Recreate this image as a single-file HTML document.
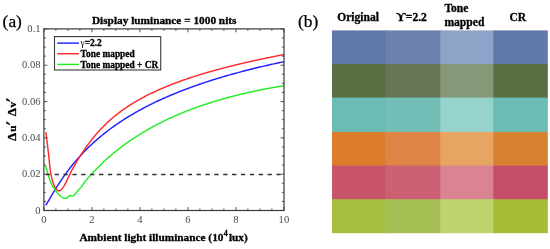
<!DOCTYPE html>
<html lang="en">
<head>
<meta charset="utf-8">
<title>Display luminance = 1000 nits</title>
<style>
html,body{margin:0;padding:0;background:#fff;}
body{width:550px;height:249px;overflow:hidden;font-family:"Liberation Serif","DejaVu Serif",serif;}
svg{display:block;filter:blur(0.35px);}
svg text{font-family:"Liberation Serif","DejaVu Serif",serif;}
.b{font-weight:bold;fill:#000;stroke:#000;stroke-width:0.3px;}
.tk{font-size:10.6px;fill:#4a4a4a;}
.pl{font-size:17.4px;fill:#000;stroke:#000;stroke-width:0.25px;}
</style>
</head>
<body>
<svg width="550" height="249" viewBox="0 0 550 249">
<rect x="0" y="0" width="550" height="249" fill="#ffffff"/>
<!-- panel (a) -->
<text class="pl" x="2.6" y="26.8">(a)</text>
<text class="b" x="164.2" y="23.9" font-size="11.3" text-anchor="middle">Display luminance = 1000 nits</text>
<g fill="none" stroke-width="1.45" stroke-linejoin="round" stroke-linecap="butt">
<path d="M45.80,205.38 L46.80,203.70 L47.80,201.99 L48.80,200.27 L49.80,198.56 L50.80,196.85 L51.80,195.15 L52.80,193.47 L53.80,191.80 L54.80,190.16 L55.80,188.54 L56.80,186.94 L57.80,185.36 L58.80,183.81 L59.80,182.28 L60.80,180.78 L61.80,179.30 L62.80,177.84 L63.80,176.41 L64.80,175.00 L65.80,173.62 L66.80,172.25 L67.80,170.91 L68.80,169.59 L69.80,168.29 L70.80,167.02 L71.80,165.76 L72.80,164.52 L73.80,163.31 L74.80,162.11 L75.80,160.93 L76.80,159.77 L77.80,158.62 L78.80,157.49 L79.80,156.38 L80.80,155.29 L81.80,154.21 L82.80,153.15 L83.80,152.10 L84.80,151.07 L85.80,150.06 L86.80,149.05 L87.80,148.06 L88.80,147.09 L89.80,146.13 L90.80,145.18 L91.80,144.24 L92.80,143.32 L93.80,142.40 L94.80,141.50 L95.80,140.62 L96.80,139.74 L97.80,138.87 L98.80,138.02 L99.80,137.17 L100.80,136.34 L101.80,135.52 L102.80,134.70 L103.80,133.90 L104.80,133.10 L105.80,132.32 L106.80,131.54 L107.80,130.78 L108.80,130.02 L109.80,129.27 L110.80,128.53 L111.80,127.79 L112.80,127.07 L113.80,126.35 L114.80,125.65 L115.80,124.94 L116.80,124.25 L117.80,123.57 L118.80,122.89 L119.80,122.22 L120.80,121.55 L121.80,120.89 L122.80,120.24 L123.80,119.60 L124.80,118.96 L125.80,118.33 L126.80,117.71 L127.80,117.09 L128.80,116.48 L129.80,115.87 L130.80,115.27 L131.80,114.68 L132.80,114.09 L133.80,113.51 L134.80,112.93 L135.80,112.36 L136.80,111.79 L137.80,111.23 L138.80,110.67 L139.80,110.12 L140.80,109.58 L141.80,109.04 L142.80,108.50 L143.80,107.97 L144.80,107.44 L145.80,106.92 L146.80,106.40 L147.80,105.89 L148.80,105.38 L149.80,104.88 L150.80,104.38 L151.80,103.88 L152.80,103.39 L153.80,102.91 L154.80,102.42 L155.80,101.95 L156.80,101.47 L157.80,101.00 L158.80,100.53 L159.80,100.07 L160.80,99.61 L161.80,99.16 L162.80,98.70 L163.80,98.26 L164.80,97.81 L165.80,97.37 L166.80,96.93 L167.80,96.50 L168.80,96.07 L169.80,95.64 L170.80,95.22 L171.80,94.79 L172.80,94.38 L173.80,93.96 L174.80,93.55 L175.80,93.14 L176.80,92.74 L177.80,92.34 L178.80,91.94 L179.80,91.54 L180.80,91.15 L181.80,90.76 L182.80,90.37 L183.80,89.99 L184.80,89.60 L185.80,89.22 L186.80,88.85 L187.80,88.47 L188.80,88.10 L189.80,87.73 L190.80,87.37 L191.80,87.01 L192.80,86.64 L193.80,86.29 L194.80,85.93 L195.80,85.58 L196.80,85.23 L197.80,84.88 L198.80,84.53 L199.80,84.19 L200.80,83.85 L201.80,83.51 L202.80,83.17 L203.80,82.84 L204.80,82.50 L205.80,82.17 L206.80,81.85 L207.80,81.52 L208.80,81.20 L209.80,80.87 L210.80,80.55 L211.80,80.24 L212.80,79.92 L213.80,79.61 L214.80,79.30 L215.80,78.99 L216.80,78.68 L217.80,78.37 L218.80,78.07 L219.80,77.77 L220.80,77.47 L221.80,77.17 L222.80,76.88 L223.80,76.58 L224.80,76.29 L225.80,76.00 L226.80,75.71 L227.80,75.42 L228.80,75.14 L229.80,74.85 L230.80,74.57 L231.80,74.29 L232.80,74.01 L233.80,73.74 L234.80,73.46 L235.80,73.19 L236.80,72.91 L237.80,72.64 L238.80,72.37 L239.80,72.11 L240.80,71.84 L241.80,71.58 L242.80,71.32 L243.80,71.05 L244.80,70.79 L245.80,70.54 L246.80,70.28 L247.80,70.02 L248.80,69.77 L249.80,69.52 L250.80,69.27 L251.80,69.02 L252.80,68.77 L253.80,68.52 L254.80,68.28 L255.80,68.03 L256.80,67.79 L257.80,67.55 L258.80,67.31 L259.80,67.07 L260.80,66.83 L261.80,66.60 L262.80,66.36 L263.80,66.13 L264.80,65.90 L265.80,65.67 L266.80,65.44 L267.80,65.21 L268.80,64.98 L269.80,64.76 L270.80,64.53 L271.80,64.31 L272.80,64.09 L273.80,63.86 L274.80,63.64 L275.80,63.43 L276.80,63.21 L277.80,62.99 L278.80,62.78 L279.80,62.56 L280.80,62.35 L281.80,62.14 L282.80,61.92 L283.80,61.71 L284.00,61.67" stroke="#1f1fff"/>
<path d="M45.90,132.20 L46.40,136.12 L46.90,140.15 L47.40,144.28 L47.90,148.50 L48.40,152.84 L48.90,157.30 L49.40,161.88 L49.90,166.83 L50.40,171.00 L50.90,174.00 L51.40,176.44 L51.90,178.48 L52.40,180.29 L52.90,181.93 L53.40,183.40 L53.90,184.70 L54.40,185.85 L54.90,186.94 L55.40,187.94 L55.90,188.78 L56.40,189.41 L56.90,189.85 L57.40,190.25 L57.90,190.57 L58.40,190.77 L58.90,190.79 L59.40,190.68 L59.90,190.48 L60.40,190.23 L60.90,189.94 L61.40,189.50 L61.90,188.92 L62.40,188.26 L62.90,187.59 L63.40,186.86 L63.90,186.07 L64.40,185.21 L64.90,184.30 L65.40,183.36 L65.90,182.38 L66.40,181.39 L66.90,180.37 L67.40,179.32 L67.90,178.26 L68.40,177.20 L68.90,176.14 L69.40,175.10 L69.90,174.08 L70.40,173.08 L70.90,172.10 L71.40,171.14 L71.90,170.21 L72.40,169.28 L72.90,168.37 L73.40,167.46 L73.90,166.57 L74.40,165.68 L74.90,164.80 L75.40,163.92 L75.90,163.06 L76.40,162.21 L76.90,161.36 L77.40,160.52 L77.90,159.69 L78.40,158.87 L78.90,158.05 L79.40,157.24 L79.90,156.44 L80.40,155.65 L80.90,154.87 L81.40,154.09 L81.90,153.32 L82.40,152.56 L82.90,151.81 L83.40,151.06 L83.90,150.32 L84.40,149.59 L84.90,148.86 L85.40,148.14 L85.90,147.43 L86.40,146.73 L86.90,146.03 L87.40,145.34 L87.90,144.66 L88.40,143.98 L88.90,143.31 L89.40,142.64 L89.90,141.99 L90.40,141.33 L90.90,140.69 L91.40,140.05 L91.90,139.42 L92.40,138.79 L92.90,138.17 L93.40,137.55 L93.90,136.94 L94.40,136.34 L94.90,135.74 L95.40,135.15 L95.90,134.57 L96.40,133.99 L96.90,133.41 L97.40,132.84 L97.90,132.28 L98.40,131.72 L98.90,131.17 L99.40,130.62 L99.90,130.08 L100.40,129.54 L100.90,129.01 L101.40,128.48 L101.90,127.96 L102.40,127.44 L102.90,126.93 L103.40,126.42 L103.90,125.92 L104.40,125.42 L104.90,124.92 L105.40,124.43 L105.90,123.95 L106.40,123.47 L106.90,123.00 L107.40,122.53 L107.90,122.06 L108.40,121.60 L108.90,121.14 L109.40,120.69 L109.90,120.24 L110.40,119.79 L110.90,119.35 L111.40,118.92 L111.90,118.49 L112.40,118.06 L112.90,117.63 L113.40,117.21 L113.90,116.80 L114.40,116.38 L114.90,115.97 L115.40,115.57 L115.90,115.17 L116.40,114.77 L116.90,114.37 L117.40,113.98 L117.90,113.59 L118.40,113.21 L118.90,112.82 L119.40,112.44 L119.90,112.07 L120.40,111.70 L120.90,111.33 L121.40,110.96 L121.90,110.60 L122.40,110.24 L122.90,109.88 L123.40,109.52 L123.90,109.17 L124.40,108.82 L124.90,108.48 L125.40,108.13 L125.90,107.79 L126.40,107.45 L126.90,107.12 L127.40,106.78 L127.90,106.45 L128.40,106.12 L128.90,105.80 L129.40,105.47 L129.90,105.15 L130.40,104.83 L130.90,104.52 L131.40,104.20 L131.90,103.89 L132.40,103.58 L132.90,103.27 L133.40,102.97 L133.90,102.67 L134.40,102.36 L134.90,102.07 L135.40,101.77 L135.90,101.47 L136.40,101.18 L136.90,100.89 L137.40,100.60 L137.90,100.31 L138.40,100.03 L138.90,99.75 L139.40,99.47 L139.90,99.19 L140.40,98.91 L140.90,98.63 L141.40,98.36 L141.90,98.09 L142.40,97.82 L142.90,97.55 L143.40,97.28 L143.90,97.02 L144.40,96.75 L144.90,96.49 L145.40,96.23 L145.90,95.97 L146.40,95.71 L146.90,95.46 L147.40,95.20 L147.90,94.95 L148.40,94.70 L148.90,94.45 L149.40,94.20 L149.90,93.96 L150.40,93.71 L150.90,93.47 L151.40,93.22 L151.90,92.98 L152.40,92.74 L152.90,92.51 L153.40,92.27 L153.90,92.03 L154.40,91.80 L154.90,91.57 L155.40,91.34 L155.90,91.11 L156.40,90.88 L156.90,90.65 L157.40,90.42 L157.90,90.20 L158.40,89.97 L158.90,89.75 L159.40,89.53 L159.90,89.31 L160.40,89.09 L160.90,88.87 L161.40,88.66 L161.90,88.44 L162.40,88.23 L162.90,88.01 L163.40,87.80 L163.90,87.59 L164.40,87.38 L164.90,87.17 L165.40,86.96 L165.90,86.76 L166.40,86.55 L166.90,86.34 L167.40,86.14 L167.90,85.94 L168.40,85.74 L168.90,85.54 L169.40,85.34 L169.90,85.14 L170.40,84.94 L170.90,84.74 L171.40,84.55 L171.90,84.35 L172.40,84.16 L172.90,83.96 L173.40,83.77 L173.90,83.58 L174.40,83.39 L174.90,83.20 L175.40,83.01 L175.90,82.82 L176.40,82.64 L176.90,82.45 L177.40,82.27 L177.90,82.08 L178.40,81.90 L178.90,81.71 L179.40,81.53 L179.90,81.35 L180.40,81.17 L180.90,80.99 L181.40,80.81 L181.90,80.64 L182.40,80.46 L182.90,80.28 L183.40,80.11 L183.90,79.93 L184.40,79.76 L184.90,79.58 L185.40,79.41 L185.90,79.24 L186.40,79.07 L186.90,78.90 L187.40,78.73 L187.90,78.56 L188.40,78.39 L188.90,78.22 L189.40,78.06 L189.90,77.89 L190.40,77.72 L190.90,77.56 L191.40,77.39 L191.90,77.23 L192.40,77.07 L192.90,76.90 L193.40,76.74 L193.90,76.58 L194.40,76.42 L194.90,76.26 L195.40,76.10 L195.90,75.94 L196.40,75.79 L196.90,75.63 L197.40,75.47 L197.90,75.32 L198.40,75.16 L198.90,75.01 L199.40,74.85 L199.90,74.70 L200.40,74.54 L200.90,74.39 L201.40,74.24 L201.90,74.09 L202.40,73.94 L202.90,73.79 L203.40,73.64 L203.90,73.49 L204.40,73.34 L204.90,73.19 L205.40,73.04 L205.90,72.90 L206.40,72.75 L206.90,72.60 L207.40,72.46 L207.90,72.31 L208.40,72.17 L208.90,72.02 L209.40,71.88 L209.90,71.74 L210.40,71.59 L210.90,71.45 L211.40,71.31 L211.90,71.17 L212.40,71.03 L212.90,70.89 L213.40,70.75 L213.90,70.61 L214.40,70.47 L214.90,70.33 L215.40,70.20 L215.90,70.06 L216.40,69.92 L216.90,69.78 L217.40,69.65 L217.90,69.51 L218.40,69.38 L218.90,69.24 L219.40,69.11 L219.90,68.98 L220.40,68.84 L220.90,68.71 L221.40,68.58 L221.90,68.44 L222.40,68.31 L222.90,68.18 L223.40,68.05 L223.90,67.92 L224.40,67.79 L224.90,67.66 L225.40,67.53 L225.90,67.40 L226.40,67.27 L226.90,67.15 L227.40,67.02 L227.90,66.89 L228.40,66.76 L228.90,66.64 L229.40,66.51 L229.90,66.39 L230.40,66.26 L230.90,66.14 L231.40,66.01 L231.90,65.89 L232.40,65.76 L232.90,65.64 L233.40,65.52 L233.90,65.39 L234.40,65.27 L234.90,65.15 L235.40,65.03 L235.90,64.90 L236.40,64.78 L236.90,64.66 L237.40,64.54 L237.90,64.42 L238.40,64.30 L238.90,64.18 L239.40,64.06 L239.90,63.95 L240.40,63.83 L240.90,63.71 L241.40,63.59 L241.90,63.47 L242.40,63.36 L242.90,63.24 L243.40,63.12 L243.90,63.01 L244.40,62.89 L244.90,62.78 L245.40,62.66 L245.90,62.55 L246.40,62.43 L246.90,62.32 L247.40,62.20 L247.90,62.09 L248.40,61.98 L248.90,61.86 L249.40,61.75 L249.90,61.64 L250.40,61.52 L250.90,61.41 L251.40,61.30 L251.90,61.19 L252.40,61.08 L252.90,60.97 L253.40,60.86 L253.90,60.75 L254.40,60.64 L254.90,60.53 L255.40,60.42 L255.90,60.31 L256.40,60.20 L256.90,60.09 L257.40,59.98 L257.90,59.87 L258.40,59.77 L258.90,59.66 L259.40,59.55 L259.90,59.44 L260.40,59.34 L260.90,59.23 L261.40,59.12 L261.90,59.02 L262.40,58.91 L262.90,58.81 L263.40,58.70 L263.90,58.60 L264.40,58.49 L264.90,58.39 L265.40,58.28 L265.90,58.18 L266.40,58.08 L266.90,57.97 L267.40,57.87 L267.90,57.77 L268.40,57.66 L268.90,57.56 L269.40,57.46 L269.90,57.36 L270.40,57.25 L270.90,57.15 L271.40,57.05 L271.90,56.95 L272.40,56.85 L272.90,56.75 L273.40,56.65 L273.90,56.55 L274.40,56.45 L274.90,56.35 L275.40,56.25 L275.90,56.15 L276.40,56.05 L276.90,55.95 L277.40,55.85 L277.90,55.75 L278.40,55.65 L278.90,55.56 L279.40,55.46 L279.90,55.36 L280.40,55.26 L280.90,55.16 L281.40,55.07 L281.90,54.97 L282.40,54.87 L282.90,54.78 L283.40,54.68 L283.90,54.58 L284.00,54.57" stroke="#ff2a2a"/>
<path d="M45.40,165.40 L45.90,166.89 L46.40,168.42 L46.90,170.00 L47.40,171.70 L47.90,173.51 L48.40,175.34 L48.90,177.12 L49.40,178.74 L49.90,180.14 L50.40,181.42 L50.90,182.63 L51.40,183.76 L51.90,184.82 L52.40,185.80 L52.90,186.70 L53.40,187.52 L53.90,188.28 L54.40,188.99 L54.90,189.66 L55.40,190.31 L55.90,190.95 L56.40,191.58 L56.90,192.22 L57.40,192.85 L57.90,193.47 L58.40,194.07 L58.90,194.63 L59.40,195.15 L59.90,195.61 L60.40,196.05 L60.90,196.48 L61.40,196.89 L61.90,197.26 L62.40,197.57 L62.90,197.81 L63.40,197.95 L63.90,198.06 L64.40,198.16 L64.90,198.24 L65.40,198.29 L65.90,198.30 L66.40,198.17 L66.90,197.91 L67.40,197.55 L67.90,197.17 L68.40,196.80 L68.90,196.34 L69.40,195.82 L69.90,195.51 L70.40,195.55 L70.90,195.72 L71.40,195.92 L71.90,196.07 L72.40,196.08 L72.90,195.91 L73.40,195.60 L73.90,195.19 L74.40,194.75 L74.90,194.31 L75.40,193.82 L75.90,193.25 L76.40,192.63 L76.90,191.98 L77.40,191.33 L77.90,190.72 L78.40,190.15 L78.90,189.60 L79.40,189.06 L79.90,188.52 L80.40,187.97 L80.90,187.39 L81.40,186.78 L81.90,186.12 L82.40,185.41 L82.90,184.65 L83.40,183.89 L83.90,183.15 L84.40,182.48 L84.90,181.84 L85.40,181.21 L85.90,180.60 L86.40,179.99 L86.90,179.40 L87.40,178.81 L87.90,178.23 L88.40,177.65 L88.90,177.08 L89.40,176.51 L89.90,175.94 L90.40,175.38 L90.90,174.82 L91.40,174.26 L91.90,173.71 L92.40,173.16 L92.90,172.62 L93.40,172.08 L93.90,171.54 L94.40,171.01 L94.90,170.49 L95.40,169.96 L95.90,169.44 L96.40,168.93 L96.90,168.41 L97.40,167.90 L97.90,167.40 L98.40,166.90 L98.90,166.40 L99.40,165.90 L99.90,165.41 L100.40,164.92 L100.90,164.44 L101.40,163.96 L101.90,163.48 L102.40,163.01 L102.90,162.53 L103.40,162.06 L103.90,161.60 L104.40,161.14 L104.90,160.68 L105.40,160.22 L105.90,159.76 L106.40,159.31 L106.90,158.87 L107.40,158.42 L107.90,157.98 L108.40,157.54 L108.90,157.10 L109.40,156.67 L109.90,156.23 L110.40,155.81 L110.90,155.38 L111.40,154.95 L111.90,154.53 L112.40,154.11 L112.90,153.70 L113.40,153.28 L113.90,152.87 L114.40,152.46 L114.90,152.06 L115.40,151.65 L115.90,151.25 L116.40,150.85 L116.90,150.45 L117.40,150.06 L117.90,149.66 L118.40,149.27 L118.90,148.88 L119.40,148.50 L119.90,148.11 L120.40,147.73 L120.90,147.35 L121.40,146.97 L121.90,146.60 L122.40,146.22 L122.90,145.85 L123.40,145.48 L123.90,145.11 L124.40,144.75 L124.90,144.38 L125.40,144.02 L125.90,143.66 L126.40,143.30 L126.90,142.95 L127.40,142.59 L127.90,142.24 L128.40,141.89 L128.90,141.54 L129.40,141.19 L129.90,140.85 L130.40,140.50 L130.90,140.16 L131.40,139.82 L131.90,139.48 L132.40,139.15 L132.90,138.81 L133.40,138.48 L133.90,138.15 L134.40,137.82 L134.90,137.49 L135.40,137.17 L135.90,136.84 L136.40,136.52 L136.90,136.20 L137.40,135.88 L137.90,135.56 L138.40,135.24 L138.90,134.93 L139.40,134.62 L139.90,134.31 L140.40,134.00 L140.90,133.69 L141.40,133.38 L141.90,133.08 L142.40,132.77 L142.90,132.47 L143.40,132.17 L143.90,131.87 L144.40,131.58 L144.90,131.28 L145.40,130.99 L145.90,130.69 L146.40,130.40 L146.90,130.11 L147.40,129.82 L147.90,129.54 L148.40,129.25 L148.90,128.97 L149.40,128.68 L149.90,128.40 L150.40,128.12 L150.90,127.84 L151.40,127.57 L151.90,127.29 L152.40,127.02 L152.90,126.74 L153.40,126.47 L153.90,126.20 L154.40,125.93 L154.90,125.67 L155.40,125.40 L155.90,125.14 L156.40,124.87 L156.90,124.61 L157.40,124.35 L157.90,124.09 L158.40,123.83 L158.90,123.57 L159.40,123.32 L159.90,123.06 L160.40,122.81 L160.90,122.56 L161.40,122.31 L161.90,122.06 L162.40,121.81 L162.90,121.56 L163.40,121.31 L163.90,121.07 L164.40,120.83 L164.90,120.58 L165.40,120.34 L165.90,120.10 L166.40,119.86 L166.90,119.63 L167.40,119.39 L167.90,119.15 L168.40,118.92 L168.90,118.69 L169.40,118.45 L169.90,118.22 L170.40,117.99 L170.90,117.76 L171.40,117.54 L171.90,117.31 L172.40,117.08 L172.90,116.86 L173.40,116.64 L173.90,116.41 L174.40,116.19 L174.90,115.97 L175.40,115.75 L175.90,115.53 L176.40,115.32 L176.90,115.10 L177.40,114.89 L177.90,114.67 L178.40,114.46 L178.90,114.25 L179.40,114.04 L179.90,113.83 L180.40,113.62 L180.90,113.41 L181.40,113.20 L181.90,112.99 L182.40,112.79 L182.90,112.59 L183.40,112.38 L183.90,112.18 L184.40,111.98 L184.90,111.78 L185.40,111.58 L185.90,111.38 L186.40,111.18 L186.90,110.99 L187.40,110.79 L187.90,110.59 L188.40,110.40 L188.90,110.21 L189.40,110.02 L189.90,109.82 L190.40,109.63 L190.90,109.44 L191.40,109.26 L191.90,109.07 L192.40,108.88 L192.90,108.70 L193.40,108.51 L193.90,108.33 L194.40,108.14 L194.90,107.96 L195.40,107.78 L195.90,107.60 L196.40,107.42 L196.90,107.24 L197.40,107.06 L197.90,106.88 L198.40,106.70 L198.90,106.53 L199.40,106.35 L199.90,106.18 L200.40,106.01 L200.90,105.83 L201.40,105.66 L201.90,105.49 L202.40,105.32 L202.90,105.15 L203.40,104.98 L203.90,104.81 L204.40,104.65 L204.90,104.48 L205.40,104.31 L205.90,104.15 L206.40,103.98 L206.90,103.82 L207.40,103.66 L207.90,103.49 L208.40,103.33 L208.90,103.17 L209.40,103.01 L209.90,102.85 L210.40,102.70 L210.90,102.54 L211.40,102.38 L211.90,102.22 L212.40,102.07 L212.90,101.91 L213.40,101.76 L213.90,101.61 L214.40,101.45 L214.90,101.30 L215.40,101.15 L215.90,101.00 L216.40,100.85 L216.90,100.70 L217.40,100.55 L217.90,100.40 L218.40,100.26 L218.90,100.11 L219.40,99.96 L219.90,99.82 L220.40,99.67 L220.90,99.53 L221.40,99.39 L221.90,99.24 L222.40,99.10 L222.90,98.96 L223.40,98.82 L223.90,98.68 L224.40,98.54 L224.90,98.40 L225.40,98.26 L225.90,98.12 L226.40,97.99 L226.90,97.85 L227.40,97.71 L227.90,97.58 L228.40,97.44 L228.90,97.31 L229.40,97.18 L229.90,97.04 L230.40,96.91 L230.90,96.78 L231.40,96.65 L231.90,96.52 L232.40,96.39 L232.90,96.26 L233.40,96.13 L233.90,96.00 L234.40,95.87 L234.90,95.75 L235.40,95.62 L235.90,95.49 L236.40,95.37 L236.90,95.24 L237.40,95.12 L237.90,95.00 L238.40,94.87 L238.90,94.75 L239.40,94.63 L239.90,94.51 L240.40,94.39 L240.90,94.27 L241.40,94.15 L241.90,94.03 L242.40,93.91 L242.90,93.79 L243.40,93.67 L243.90,93.56 L244.40,93.44 L244.90,93.32 L245.40,93.21 L245.90,93.09 L246.40,92.98 L246.90,92.86 L247.40,92.75 L247.90,92.64 L248.40,92.52 L248.90,92.41 L249.40,92.30 L249.90,92.19 L250.40,92.08 L250.90,91.97 L251.40,91.86 L251.90,91.75 L252.40,91.64 L252.90,91.53 L253.40,91.43 L253.90,91.32 L254.40,91.21 L254.90,91.11 L255.40,91.00 L255.90,90.90 L256.40,90.79 L256.90,90.69 L257.40,90.58 L257.90,90.48 L258.40,90.38 L258.90,90.27 L259.40,90.17 L259.90,90.07 L260.40,89.97 L260.90,89.87 L261.40,89.77 L261.90,89.67 L262.40,89.57 L262.90,89.47 L263.40,89.37 L263.90,89.28 L264.40,89.18 L264.90,89.08 L265.40,88.98 L265.90,88.89 L266.40,88.79 L266.90,88.70 L267.40,88.60 L267.90,88.51 L268.40,88.41 L268.90,88.32 L269.40,88.23 L269.90,88.14 L270.40,88.04 L270.90,87.95 L271.40,87.86 L271.90,87.77 L272.40,87.68 L272.90,87.59 L273.40,87.50 L273.90,87.41 L274.40,87.32 L274.90,87.23 L275.40,87.14 L275.90,87.06 L276.40,86.97 L276.90,86.88 L277.40,86.79 L277.90,86.71 L278.40,86.62 L278.90,86.54 L279.40,86.45 L279.90,86.37 L280.40,86.28 L280.90,86.20 L281.40,86.12 L281.90,86.03 L282.40,85.95 L282.90,85.87 L283.40,85.79 L283.90,85.70 L284.00,85.69" stroke="#22ee22"/>
</g>
<line x1="44" y1="174.5" x2="284" y2="174.5" stroke="#333" stroke-width="1.3" stroke-dasharray="4.3 4.57" stroke-dashoffset="-1.8"/>
<g stroke="#3a3a3a" stroke-width="0.9">
<line x1="43.9" y1="210.5" x2="43.9" y2="207.1"/>
<line x1="43.9" y1="28.9" x2="43.9" y2="32.3"/>
<line x1="55.9" y1="210.5" x2="55.9" y2="208.5"/>
<line x1="55.9" y1="28.9" x2="55.9" y2="30.9"/>
<line x1="67.9" y1="210.5" x2="67.9" y2="208.5"/>
<line x1="67.9" y1="28.9" x2="67.9" y2="30.9"/>
<line x1="79.9" y1="210.5" x2="79.9" y2="208.5"/>
<line x1="79.9" y1="28.9" x2="79.9" y2="30.9"/>
<line x1="91.9" y1="210.5" x2="91.9" y2="207.1"/>
<line x1="91.9" y1="28.9" x2="91.9" y2="32.3"/>
<line x1="103.9" y1="210.5" x2="103.9" y2="208.5"/>
<line x1="103.9" y1="28.9" x2="103.9" y2="30.9"/>
<line x1="115.9" y1="210.5" x2="115.9" y2="208.5"/>
<line x1="115.9" y1="28.9" x2="115.9" y2="30.9"/>
<line x1="127.9" y1="210.5" x2="127.9" y2="208.5"/>
<line x1="127.9" y1="28.9" x2="127.9" y2="30.9"/>
<line x1="139.9" y1="210.5" x2="139.9" y2="207.1"/>
<line x1="139.9" y1="28.9" x2="139.9" y2="32.3"/>
<line x1="151.9" y1="210.5" x2="151.9" y2="208.5"/>
<line x1="151.9" y1="28.9" x2="151.9" y2="30.9"/>
<line x1="163.9" y1="210.5" x2="163.9" y2="208.5"/>
<line x1="163.9" y1="28.9" x2="163.9" y2="30.9"/>
<line x1="175.9" y1="210.5" x2="175.9" y2="208.5"/>
<line x1="175.9" y1="28.9" x2="175.9" y2="30.9"/>
<line x1="187.9" y1="210.5" x2="187.9" y2="207.1"/>
<line x1="187.9" y1="28.9" x2="187.9" y2="32.3"/>
<line x1="199.9" y1="210.5" x2="199.9" y2="208.5"/>
<line x1="199.9" y1="28.9" x2="199.9" y2="30.9"/>
<line x1="211.9" y1="210.5" x2="211.9" y2="208.5"/>
<line x1="211.9" y1="28.9" x2="211.9" y2="30.9"/>
<line x1="223.9" y1="210.5" x2="223.9" y2="208.5"/>
<line x1="223.9" y1="28.9" x2="223.9" y2="30.9"/>
<line x1="235.9" y1="210.5" x2="235.9" y2="207.1"/>
<line x1="235.9" y1="28.9" x2="235.9" y2="32.3"/>
<line x1="247.9" y1="210.5" x2="247.9" y2="208.5"/>
<line x1="247.9" y1="28.9" x2="247.9" y2="30.9"/>
<line x1="259.9" y1="210.5" x2="259.9" y2="208.5"/>
<line x1="259.9" y1="28.9" x2="259.9" y2="30.9"/>
<line x1="271.9" y1="210.5" x2="271.9" y2="208.5"/>
<line x1="271.9" y1="28.9" x2="271.9" y2="30.9"/>
<line x1="283.9" y1="210.5" x2="283.9" y2="207.1"/>
<line x1="283.9" y1="28.9" x2="283.9" y2="32.3"/>
<line x1="43.9" y1="210.50" x2="47.3" y2="210.50"/>
<line x1="284.0" y1="210.50" x2="280.6" y2="210.50"/>
<line x1="43.9" y1="201.42" x2="45.9" y2="201.42"/>
<line x1="284.0" y1="201.42" x2="282.0" y2="201.42"/>
<line x1="43.9" y1="192.34" x2="45.9" y2="192.34"/>
<line x1="284.0" y1="192.34" x2="282.0" y2="192.34"/>
<line x1="43.9" y1="183.26" x2="45.9" y2="183.26"/>
<line x1="284.0" y1="183.26" x2="282.0" y2="183.26"/>
<line x1="43.9" y1="174.18" x2="47.3" y2="174.18"/>
<line x1="284.0" y1="174.18" x2="280.6" y2="174.18"/>
<line x1="43.9" y1="165.10" x2="45.9" y2="165.10"/>
<line x1="284.0" y1="165.10" x2="282.0" y2="165.10"/>
<line x1="43.9" y1="156.02" x2="45.9" y2="156.02"/>
<line x1="284.0" y1="156.02" x2="282.0" y2="156.02"/>
<line x1="43.9" y1="146.94" x2="45.9" y2="146.94"/>
<line x1="284.0" y1="146.94" x2="282.0" y2="146.94"/>
<line x1="43.9" y1="137.86" x2="47.3" y2="137.86"/>
<line x1="284.0" y1="137.86" x2="280.6" y2="137.86"/>
<line x1="43.9" y1="128.78" x2="45.9" y2="128.78"/>
<line x1="284.0" y1="128.78" x2="282.0" y2="128.78"/>
<line x1="43.9" y1="119.70" x2="45.9" y2="119.70"/>
<line x1="284.0" y1="119.70" x2="282.0" y2="119.70"/>
<line x1="43.9" y1="110.62" x2="45.9" y2="110.62"/>
<line x1="284.0" y1="110.62" x2="282.0" y2="110.62"/>
<line x1="43.9" y1="101.54" x2="47.3" y2="101.54"/>
<line x1="284.0" y1="101.54" x2="280.6" y2="101.54"/>
<line x1="43.9" y1="92.46" x2="45.9" y2="92.46"/>
<line x1="284.0" y1="92.46" x2="282.0" y2="92.46"/>
<line x1="43.9" y1="83.38" x2="45.9" y2="83.38"/>
<line x1="284.0" y1="83.38" x2="282.0" y2="83.38"/>
<line x1="43.9" y1="74.30" x2="45.9" y2="74.30"/>
<line x1="284.0" y1="74.30" x2="282.0" y2="74.30"/>
<line x1="43.9" y1="65.22" x2="47.3" y2="65.22"/>
<line x1="284.0" y1="65.22" x2="280.6" y2="65.22"/>
<line x1="43.9" y1="56.14" x2="45.9" y2="56.14"/>
<line x1="284.0" y1="56.14" x2="282.0" y2="56.14"/>
<line x1="43.9" y1="47.06" x2="45.9" y2="47.06"/>
<line x1="284.0" y1="47.06" x2="282.0" y2="47.06"/>
<line x1="43.9" y1="37.98" x2="45.9" y2="37.98"/>
<line x1="284.0" y1="37.98" x2="282.0" y2="37.98"/>
<line x1="43.9" y1="28.90" x2="47.3" y2="28.90"/>
<line x1="284.0" y1="28.90" x2="280.6" y2="28.90"/>
</g>
<rect x="43.9" y="28.9" width="240.1" height="181.6" fill="none" stroke="#3a3a3a" stroke-width="1.2"/>
<g class="tk"><text x="43.9" y="223.1" text-anchor="middle">0</text><text x="91.9" y="223.1" text-anchor="middle">2</text><text x="139.9" y="223.1" text-anchor="middle">4</text><text x="187.9" y="223.1" text-anchor="middle">6</text><text x="235.9" y="223.1" text-anchor="middle">8</text><text x="283.9" y="223.1" text-anchor="middle">10</text><text x="40.6" y="213.60" text-anchor="end">0</text><text x="40.6" y="177.28" text-anchor="end">0.02</text><text x="40.6" y="140.96" text-anchor="end">0.04</text><text x="40.6" y="104.64" text-anchor="end">0.06</text><text x="40.6" y="68.32" text-anchor="end">0.08</text><text x="40.6" y="32.00" text-anchor="end">0.1</text></g>
<text class="b" x="79.4" y="241.2" font-size="11.3">Ambient light illuminance (10<tspan dy="-5.5" dx="0.3" font-size="7.9">4</tspan><tspan dy="5.5" dx="1.2">lux)</tspan></text>
<g class="b" transform="translate(16.2,140.8) rotate(-90)"><text font-size="13" x="-0.3" y="0">Δ</text><text font-size="11.3" x="9" y="0">u</text><text font-size="16.5" font-style="italic" x="15.2" y="1" transform="rotate(14,17.5,-8)">′</text><text font-size="13" x="24.6" y="0">Δ</text><text font-size="11.3" x="33.4" y="0">v</text><text font-size="16.5" font-style="italic" x="38.4" y="1" transform="rotate(14,40.7,-8)">′</text></g>
<!-- legend -->
<rect x="54.5" y="36.6" width="106.2" height="33.4" fill="#fff" stroke="#3a3a3a" stroke-width="1.1"/>
<g stroke-width="1.45">
<line x1="57.2" y1="43.1" x2="79" y2="43.1" stroke="#1f1fff"/>
<line x1="57.2" y1="53.7" x2="79" y2="53.7" stroke="#ff2a2a"/>
<line x1="57.2" y1="64.4" x2="79" y2="64.4" stroke="#22ee22"/>
</g>
<g class="b" font-size="9.4">
<text x="80.6" y="45.6"><tspan font-weight="normal" stroke="none">γ</tspan>=2.2</text>
<text x="80.6" y="56.9">Tone mapped</text>
<text x="80.6" y="68.2">Tone mapped + CR</text>
</g>
<!-- panel (b) -->
<text class="pl" x="297.9" y="26.8">(b)</text>
<g class="b" font-size="11.6">
<text x="358.1" y="21.2" text-anchor="middle">Original</text>
<text x="396.2" y="21.2"><tspan font-size="13.2">ϒ</tspan><tspan x="405.8">=2.2</tspan></text>
<text x="444.4" y="12.2">Tone</text>
<text x="444.4" y="25.7">mapped</text>
<text x="517.8" y="21.2" text-anchor="middle">CR</text>
</g>
<rect x="332.0" y="30.4" width="55.0" height="35.1" fill="#6079a8"/>
<rect x="385.5" y="30.4" width="56.3" height="35.1" fill="#6c82ad"/>
<rect x="440.3" y="30.4" width="54.5" height="35.1" fill="#8ea3c8"/>
<rect x="493.3" y="30.4" width="54.5" height="35.1" fill="#6079a8"/>
<rect x="332.0" y="64.0" width="55.0" height="35.1" fill="#5a6e44"/>
<rect x="385.5" y="64.0" width="56.3" height="35.1" fill="#667653"/>
<rect x="440.3" y="64.0" width="54.5" height="35.1" fill="#879879"/>
<rect x="493.3" y="64.0" width="54.5" height="35.1" fill="#5a6e44"/>
<rect x="332.0" y="97.6" width="55.0" height="35.8" fill="#6bbcb4"/>
<rect x="385.5" y="97.6" width="56.3" height="35.8" fill="#74beb8"/>
<rect x="440.3" y="97.6" width="54.5" height="35.8" fill="#95d3cc"/>
<rect x="493.3" y="97.6" width="54.5" height="35.8" fill="#6bbcb4"/>
<rect x="332.0" y="131.9" width="55.0" height="35.2" fill="#dc7d2e"/>
<rect x="385.5" y="131.9" width="56.3" height="35.2" fill="#df8545"/>
<rect x="440.3" y="131.9" width="54.5" height="35.2" fill="#e8a562"/>
<rect x="493.3" y="131.9" width="54.5" height="35.2" fill="#d68232"/>
<rect x="332.0" y="165.6" width="55.0" height="35.1" fill="#c8546a"/>
<rect x="385.5" y="165.6" width="56.3" height="35.1" fill="#cc6174"/>
<rect x="440.3" y="165.6" width="54.5" height="35.1" fill="#da8393"/>
<rect x="493.3" y="165.6" width="54.5" height="35.1" fill="#c54f69"/>
<rect x="332.0" y="199.2" width="55.0" height="34.0" fill="#a5be3f"/>
<rect x="385.5" y="199.2" width="56.3" height="34.0" fill="#a6bf55"/>
<rect x="440.3" y="199.2" width="54.5" height="34.0" fill="#bfd46e"/>
<rect x="493.3" y="199.2" width="54.5" height="34.0" fill="#a5bc34"/>
</svg>
</body>
</html>
